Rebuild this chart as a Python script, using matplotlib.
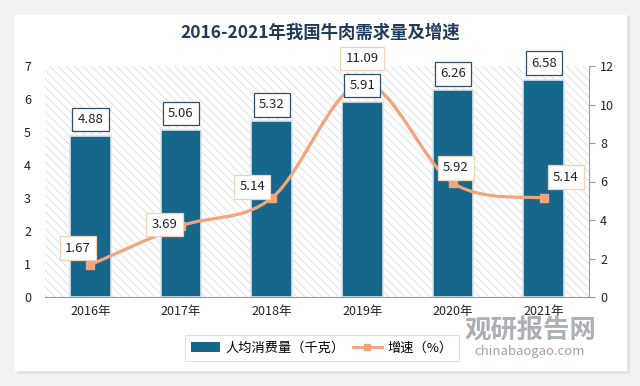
import matplotlib
matplotlib.use("Agg")
import matplotlib.pyplot as plt
from matplotlib.patches import Rectangle, PathPatch
from matplotlib.path import Path
from matplotlib.lines import Line2D
import numpy as np

plt.rcParams['font.family'] = ['Noto Sans CJK SC', 'DejaVu Sans']

years = ["2016年", "2017年", "2018年", "2019年", "2020年", "2021年"]
consumption = [4.88, 5.06, 5.32, 5.91, 6.26, 6.58]
growth = [1.67, 3.69, 5.14, 11.09, 5.92, 5.14]

BAR_COLOR = "#17678c"
LINE_COLOR = "#f2a47a"
NAVY = "#1f3b5c"

fig = plt.figure(figsize=(6.4, 3.86), dpi=100)
fig.patch.set_facecolor("#f1f2f4")

# white card with soft shadow
fig.patches.append(Rectangle((17 / 640, 1 - 374 / 386), 613 / 640, 358 / 386,
                             transform=fig.transFigure, facecolor="#e2e3e6",
                             edgecolor="none", zorder=-10))
fig.patches.append(Rectangle((15 / 640, 1 - 371 / 386), 612 / 640, 356 / 386,
                             transform=fig.transFigure, facecolor="white",
                             edgecolor="none", zorder=-9))

ax = fig.add_axes([45 / 640, 1 - 297 / 386, 544 / 640, 231 / 386])
ax.patch.set_alpha(0)

# hatched plot background
plt.rcParams['hatch.color'] = "#dedede"
plt.rcParams['hatch.linewidth'] = 0.6
ax.add_patch(Rectangle((0, 0), 1, 1, transform=ax.transAxes, facecolor="white",
                       edgecolor="#dedede", hatch="\\\\\\\\", linewidth=0, zorder=0))

x = np.arange(len(years))
ax.bar(x, consumption, width=0.45, color=BAR_COLOR, edgecolor="#d8e6ee",
       linewidth=1.2, zorder=2)
ax.set_xlim(-0.5, len(years) - 0.5)
ax.set_ylim(0, 7)
ax.set_yticks(range(0, 8))
ax.set_xticks(x)
ax.set_xticklabels(years, fontsize=9, color="#222222")
ax.tick_params(axis="y", length=0, labelsize=9, labelcolor="#222222", pad=10)
ax.tick_params(axis="x", length=0, pad=6)
for s in ["top", "right", "left"]:
    ax.spines[s].set_visible(False)
ax.spines["bottom"].set_color("#9a9a9a")

ax2 = ax.twinx()
ax2.set_ylim(0, 12)
ax2.set_yticks(range(0, 13, 2))
ax2.tick_params(axis="y", length=4, color="#9a9a9a", labelsize=9,
                labelcolor="#222222", pad=4)
for s in ["top", "left", "bottom"]:
    ax2.spines[s].set_visible(False)
ax2.spines["right"].set_color("#9a9a9a")

# smoothed line (Catmull-Rom -> cubic bezier)
pts = np.column_stack([x, growth]).astype(float)
ext = np.vstack([pts[0], pts, pts[-1]])
verts = [tuple(pts[0])]
codes = [Path.MOVETO]
for i in range(1, len(ext) - 2):
    p0, p1, p2, p3 = ext[i - 1], ext[i], ext[i + 1], ext[i + 2]
    c1 = p1 + (p2 - p0) / 6
    c2 = p2 - (p3 - p1) / 6
    verts += [tuple(c1), tuple(c2), tuple(p2)]
    codes += [Path.CURVE4] * 3
ax2.add_patch(PathPatch(Path(verts, codes), facecolor="none", edgecolor=LINE_COLOR,
                        linewidth=2.3, zorder=3))
ax2.plot(x, growth, linestyle="none", marker="s", markersize=6,
         color=LINE_COLOR, zorder=4)

box_kw = dict(boxstyle="square,pad=0.4", facecolor="white", linewidth=0.9)

offsets = [(-9, 12), (-12, 1), (-14, 8), (0, 18), (2, 11), (16, 15)]
for xi, v, off in zip(x, growth, offsets):
    ax2.annotate(f"{v:.2f}", (xi, v), xytext=off, textcoords="offset points",
                 ha="center", va="center", fontsize=9.5, color="#222222", zorder=7,
                 bbox=dict(box_kw, edgecolor="#f2d3b8"))

# bar labels drawn on top of the line
for xi, v in zip(x, consumption):
    ax2.annotate(f"{v:.2f}", (xi, v), xycoords=ax.transData, xytext=(0, 12),
                 textcoords="offset points", ha="center", va="center",
                 fontsize=9.5, color="#222222", zorder=8,
                 bbox=dict(box_kw, edgecolor="#2d4f6c"))

fig.text(0.5, 1 - 33 / 386, "2016-2021年我国牛肉需求量及增速", ha="center",
         va="center", fontsize=12.5, fontweight="bold", color=NAVY)

handles = [Rectangle((0, 0), 1, 1, facecolor=BAR_COLOR),
           Line2D([], [], color=LINE_COLOR, linewidth=2, marker="s", markersize=5)]
leg = fig.legend(handles, ["人均消费量（千克）", "增速（%）"], loc="center",
                 bbox_to_anchor=(0.503, 1 - 348 / 386), ncol=2, frameon=True,
                 fontsize=9.5, fancybox=False, edgecolor="#d8d8d8",
                 handlelength=2.2, columnspacing=0.6, handletextpad=0.4,
                 borderpad=0.5)
leg.get_frame().set_linewidth(0.8)

# watermark
fig.text(530 / 640, 1 - 331 / 386, "观研报告网", ha="center", va="center",
         fontsize=19, fontweight="bold", color="#7f868d", alpha=0.65)
fig.text(530 / 640, 1 - 351 / 386, "chinabaogao.com", ha="center", va="center",
         fontsize=9.5, color="#7f868d", alpha=0.75)

fig.savefig("out.png", dpi=100, facecolor=fig.get_facecolor())
